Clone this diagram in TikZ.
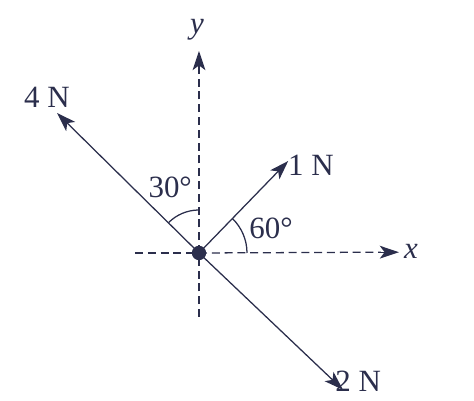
\documentclass[tikz,border=0pt]{standalone}
\usepackage{fontspec}
\setmainfont{Liberation Serif}
\usetikzlibrary{arrows.meta}
\usetikzlibrary{positioning}
\definecolor{ink}{HTML}{2B2E4C}
\tikzset{circ/.style = {fill = ink, circle, inner sep = 0, minimum size = 0.36cm}}
\tikzset{force/.style = {draw = ink, line width = 0.9pt, -{Stealth[length = 0.48cm, width = 0.32cm, inset = 0.12cm]}}}
\tikzset{axis/.style = {draw = ink, line width = 0.9pt, dash pattern = on 0.2cm off 0.12cm}}
\tikzset{lbl/.style = {text = ink, font = \fontsize{22}{26}\selectfont, inner sep = 0}}

\begin{document}
\begin{tikzpicture}
    \useasboundingbox (-4.975, -3.7) rectangle (6.875, 6.325);
    \coordinate (O) at (0, 0);
    \coordinate (xl) at (-1.6, 0);
    \coordinate (xa) at (4.55, 0.02);
    \coordinate (xr) at (5.0, 0.02);
    \coordinate (yd) at (0, -1.6);
    \coordinate (ya) at (0, 4.6);
    \coordinate (yu) at (0, 5.05);
    \coordinate (f1) at (2.23, 2.3);
    \coordinate (f2) at (3.6, -3.42);
    \coordinate (f4) at (-3.55, 3.5);
    \draw [axis] (xl) -- (O);
    \draw [axis] (yd) -- (O);
    \draw [axis] (O) -- (xa);
    \draw [axis] (O) -- (ya);
    \draw [force] (xa) -- (xr);
    \draw [force] (ya) -- (yu);
    \draw [force] (O) -- (f1);
    \draw [force] (O) -- (f2);
    \draw [force] (O) -- (f4);
    \draw [ink, line width = 0.9pt] (0, 1.075) arc (90 : 135 : 1.075);
    \draw [ink, line width = 0.9pt] (1.2, 0) arc (0 : 46 : 1.2);
    \node [circ] (dot) at (O) {};
    \node [lbl] (xlab) at (5.3, 0.05) {\itshape x};
    \node [lbl] (ylab) at (-0.05, 5.57) {\itshape y};
    \node [lbl] (n1) at (2.8, 2.2) {1 N};
    \node [lbl] (n2) at (3.98, -3.2) {2 N};
    \node [lbl] (n4) at (-3.8, 3.88) {4 N};
    \node [lbl] (a30) at (-0.72, 1.65) {30°};
    \node [lbl] (a60) at (1.8, 0.62) {60°};
  \end{tikzpicture}
\end{document}
